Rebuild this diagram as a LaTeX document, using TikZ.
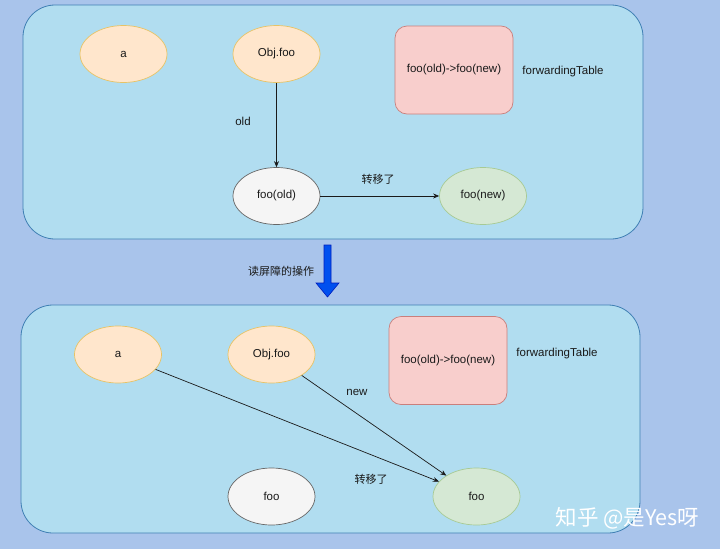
\documentclass[tikz,border=0pt]{standalone}
\usepackage{fontspec}
\setmainfont{Liberation Sans}
\newfontfamily\cjk{Noto Sans CJK SC}
\usetikzlibrary{shapes.geometric,arrows.meta}
\definecolor{bgc}{HTML}{A9C4EB}
\definecolor{panelfill}{HTML}{B1DDF0}
\definecolor{panelline}{HTML}{3F7FB3}
\definecolor{orfill}{HTML}{FFE6CC}
\definecolor{orline}{HTML}{D79B00}
\definecolor{grfill}{HTML}{F5F5F5}
\definecolor{grline}{HTML}{666666}
\definecolor{gnfill}{HTML}{D5E8D4}
\definecolor{gnline}{HTML}{82B366}
\definecolor{pkfill}{HTML}{F8CECC}
\definecolor{pkline}{HTML}{B85450}
\definecolor{bluefill}{HTML}{0050EF}
\definecolor{blueline}{HTML}{001DBC}
\definecolor{txt}{HTML}{1A1A1A}
\tikzset{
  panel/.style={draw=panelline, fill=panelfill, line width=0.8pt, rounded corners=32pt},
  obj/.style={ellipse, draw, line width=0.7pt, minimum width=87pt, minimum height=57pt, inner sep=0pt, font=\fontsize{11.5}{13}\selectfont, text=txt},
  orange/.style={obj, fill=orfill, draw=orline!60!white},
  gray/.style={obj, fill=grfill, draw=grline},
  green/.style={obj, fill=gnfill, draw=gnline!70!white},
  table/.style={draw=pkline!75!white, fill=pkfill, line width=0.7pt, rounded corners=12pt, minimum width=118pt, minimum height=88pt, inner sep=0pt, font=\fontsize{11.5}{13}\selectfont, text=txt},
  lbl/.style={font=\fontsize{11.5}{13}\selectfont, text=txt, inner sep=1pt},
  cjklbl/.style={font=\cjk\fontsize{11}{13}\selectfont, text=txt, inner sep=1pt},
  conn/.style={draw=txt, line width=0.7pt, -{Stealth[length=6pt,width=5pt]}},
}
\begin{document}
\begin{tikzpicture}[x=1pt,y=-1pt]
\useasboundingbox (0,0) rectangle (720,549);
\fill[bgc] (0,0) rectangle (720,549);
% top panel
\draw[panel] (23,5) rectangle (643,239);
\node[orange] (a1) at (123.5,54) {a};
\node[orange] (obj1) at (276.5,54) {Obj.foo};
\node[gray] (old1) at (276.5,196) {foo(old)};
\node[green] (new1) at (483,196) {foo(new)};
\node[table] (tab1) at (454,70) {foo(old)->foo(new)};
\node[lbl] (ft1) at (563,72) {forwardingTable};
\draw[conn] (obj1) -- (old1);
\draw[conn] (old1) -- (new1);
\node[lbl] (oldlbl) at (243,121) {old};
\node[cjklbl] (mv1) at (378,179) {转移了};
% middle arrow
\draw[fill=bluefill, draw=blueline, line width=0.6pt] (324,245) -- (331,245) -- (331,283) -- (339,283) -- (327.5,297) -- (316,283) -- (324,283) -- cycle;
\node[cjklbl] (rb) at (281,271) {读屏障的操作};
% bottom panel
\draw[panel] (21,305) rectangle (640,533);
\node[orange] (a2) at (118,354.5) {a};
\node[orange] (obj2) at (271.5,354.5) {Obj.foo};
\node[gray] (old2) at (271.5,496.5) {foo};
\node[green] (new2) at (476.5,496.5) {foo};
\node[table] (tab2) at (448,360.5) {foo(old)->foo(new)};
\node[lbl] (ft2) at (557,354) {forwardingTable};
\draw[conn] (a2) -- (new2);
\draw[conn] (obj2) -- (new2);
\node[lbl] (newlbl) at (357,392) {new};
\node[cjklbl] (mv2) at (371,479) {转移了};
% watermark
\node[font=\cjk\fontsize{21.5}{23}\selectfont, text=white, inner sep=0pt] (wm) at (627.5,518) {知乎 @是Yes呀};
\end{tikzpicture}
\end{document}
